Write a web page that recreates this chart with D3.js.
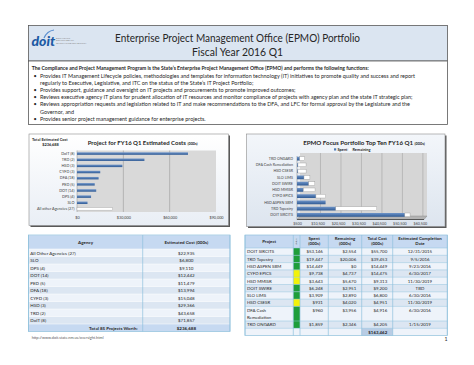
<!DOCTYPE html>
<html>
<head>
<meta charset="utf-8">
<script src="https://cdn.jsdelivr.net/npm/d3@7"></script>
<style>
body { margin: 0; background: #fff; }
svg { display: block; font-family: Lato, "Open Sans", sans-serif; }
</style>
</head>
<body>
<div id="chart"></div>
<script>
// DATA
var titleLines = ["Enterprise Project Management Office (EPMO) Portfolio", "Fiscal Year 2016 Q1"];
var introLine = "The Compliance and Project Management Program is the State\u2019s Enterprise Project Management Office (EPMO) and performs the following functions:";
var bullets = [
  ["Provides IT Management Lifecycle policies, methodologies and templates for information technology (IT) initiatives to promote quality and success and report",
   "regularly to Executive, Legislative, and ITC on the status of the State\u2019s IT Project Portfolio;"],
  ["Provides support, guidance and oversight on IT projects and procurements to promote improved outcomes;"],
  ["Reviews executive agency IT plans for prudent allocation of IT resources and monitor compliance of projects with agency plan and the state IT strategic plan;"],
  ["Reviews appropriation requests and legislation related to IT and make recommendations to the DFA, and LFC for formal approval by the Legislature and the",
   "Governor, and"],
  ["Provides senior project management guidance for enterprise projects."]
];

var agencies = ["All Other Agencies (27)", "SLO", "DPS (4)", "DOT (14)", "PED (5)", "DFA (18)", "CYFD (3)", "HSD (3)", "TRD (2)", "DoIT (8)"];
var agencyCosts = [22935, 6800, 9110, 12442, 11479, 13994, 15048, 29366, 43658, 71857];
var agencyTotal = 236688;
var agencyProjects = 85;
var costTicks = [0, 30000, 60000, 90000];

var projects = ["DOIT SIRCITS", "TRD Tapestry", "HSD ASPEN SBM", "CYFD EPICS", "HSD MMISR", "DOIT SWIRE", "SLO LIMS", "HSD CSESR", "DFA Cash Remediation", "TRD ONGARD"];
var projStatus = ["green", "green", "green", "yellow", "yellow", "green", "green", "yellow", "green", "green"];
var spent = [53146, 19447, 14449, 9738, 3643, 6248, 3909, 931, 960, 1859];
var remaining = [2554, 20006, 0, 4737, 5670, 2951, 2890, 4020, 3956, 2346];
var totalCost = [55700, 39453, 14449, 14475, 9313, 9200, 6800, 4951, 4916, 4205];
var completion = ["12/31/2015", "9/5/2016", "9/23/2016", "6/30/2017", "11/30/2019", "TBD", "6/30/2016", "11/30/2019", "6/30/2016", "1/15/2019"];
var projectTotal = 163462;
var spentTicks = [500, 10500, 20500, 30500, 40500, 50500, 60500];

var W = 474, H = 365;
var money = function(d) { return "$" + d3.format(",")(d); };
var statusColor = { green: "#1e9e3a", yellow: "#f2f20a" };

var svg = d3.select("#chart").append("svg")
  .attr("width", W)
  .attr("height", H);

var defs = svg.append("defs");
function vgrad(id, c0, c1) {
  var g = defs.append("linearGradient").attr("id", id)
    .attr("x1", 0).attr("y1", 0).attr("x2", 0).attr("y2", 1);
  g.append("stop").attr("offset", "0%").attr("stop-color", c0);
  g.append("stop").attr("offset", "100%").attr("stop-color", c1);
}
vgrad("barBlue", "#6f95c9", "#2f5a94");
vgrad("boxL", "#ffffff", "#e9eef5");
vgrad("boxR", "#f3f6fa", "#dde5ef");

// fit a text node to a target width
function fit(sel, width) {
  sel.attr("textLength", width).attr("lengthAdjust", "spacingAndGlyphs");
}

// HEADER
svg.append("rect").attr("x", 28.5).attr("y", 25.5).attr("width", 419).attr("height", 35.5)
  .attr("fill", "#dbe5f1").attr("stroke", "#595959").attr("stroke-width", 0.8);
svg.append("rect").attr("x", 28.5).attr("y", 61).attr("width", 419).attr("height", 63.5)
  .attr("fill", "#fff").attr("stroke", "#595959").attr("stroke-width", 0.8);

// logo
var logo = svg.append("g");
logo.append("text").attr("x", 31.5).attr("y", 45.5)
  .attr("font-size", 14).attr("font-weight", 900).attr("font-style", "italic")
  .attr("fill", "#1d5aa3").text("doit");
logo.append("path").attr("d", "M44,38 Q47,31 54,30")
  .attr("fill", "none").attr("stroke", "#5b8fd0").attr("stroke-width", 1.2);
["NEW MEXICO", "DEPARTMENT OF", "INFORMATION TECHNOLOGY"].forEach(function(t, i) {
  logo.append("text").attr("x", 56).attr("y", 38.5 + i * 2.8)
    .attr("font-size", 2.2).attr("fill", "#8a8a8a").text(t);
});

titleLines.forEach(function(t, i) {
  var tx = svg.append("text").attr("x", 237.5).attr("y", 41.5 + i * 14)
    .attr("text-anchor", "middle").attr("font-size", 11).attr("fill", "#262626").text(t);
  fit(tx, i === 0 ? 245 : 91);
});

// intro text block
var intro = svg.append("g").attr("font-size", 5.6).attr("fill", "#262626");
var probe = intro.append("text").attr("x", 40).attr("y", 77.5).text(bullets[0][0]);
var k = 375 / probe.node().getComputedTextLength();
probe.remove();

var it = intro.append("text").attr("x", 31.7).attr("y", 70.3).attr("font-weight", 700).text(introLine);
fit(it, it.node().getComputedTextLength() * k * 0.93);

var lineY = 77.5;
bullets.forEach(function(b) {
  intro.append("text").attr("x", 33.5).attr("y", lineY).text("\u2022");
  b.forEach(function(line) {
    var t = intro.append("text").attr("x", 40).attr("y", lineY).text(line);
    fit(t, t.node().getComputedTextLength() * k);
    lineY += 7.2;
  });
});

// LEFT CHART
function chartBox(x, y, w, h, fillId) {
  svg.append("rect").attr("x", x + 1.5).attr("y", y + 1.5).attr("width", w).attr("height", h)
    .attr("fill", "#595959");
  svg.append("rect").attr("x", x).attr("y", y).attr("width", w).attr("height", h)
    .attr("fill", "url(#" + fillId + ")").attr("stroke", "#8c8c8c").attr("stroke-width", 0.6);
}
chartBox(29, 134, 199.5, 91.5, "boxL");

var lc = { x0: 77, x1: 216, y0: 150.5, y1: 212 };
var xCost = d3.scaleLinear().domain([0, 90000]).range([lc.x0, lc.x1]);
var yAg = d3.scaleBand().domain(agencies).range([lc.y1, lc.y0]).paddingInner(0.6).paddingOuter(0.3);

svg.append("rect").attr("x", lc.x0).attr("y", lc.y0).attr("width", lc.x1 - lc.x0).attr("height", lc.y1 - lc.y0)
  .attr("fill", "#d9d9d9");
svg.append("g").selectAll("line").data(costTicks.slice(1, -1)).enter().append("line")
  .attr("x1", function(d) { return xCost(d); }).attr("x2", function(d) { return xCost(d); })
  .attr("y1", lc.y0).attr("y2", lc.y1)
  .attr("stroke", "#8c8c8c").attr("stroke-width", 0.5);
svg.append("line").attr("x1", lc.x0).attr("x2", lc.x0).attr("y1", lc.y0).attr("y2", lc.y1)
  .attr("stroke", "#8c8c8c").attr("stroke-width", 0.5);

svg.append("g").selectAll("rect").data(agencies).enter().append("rect")
  .attr("x", lc.x0)
  .attr("y", function(d) { return yAg(d); })
  .attr("width", function(d, i) { return xCost(agencyCosts[i]) - lc.x0; })
  .attr("height", yAg.bandwidth())
  .attr("fill", function(d, i) { return i === 0 ? "#ffffff" : "url(#barBlue)"; })
  .attr("stroke", function(d, i) { return i === 0 ? "#a6a6a6" : "none"; })
  .attr("stroke-width", 0.4);

var lcY = svg.append("g").attr("transform", "translate(" + (lc.x0 - 2.5) + ",0)")
  .call(d3.axisLeft(yAg).tickSize(0).tickPadding(0)
    .tickFormat(function(d) { return d.replace("Other", "other"); }));
lcY.select(".domain").remove();
lcY.selectAll("text").attr("font-size", 3.8).attr("fill", "#404040").attr("font-family", "Lato, sans-serif");

var lcX = svg.append("g").attr("transform", "translate(0," + (lc.y1 + 4) + ")")
  .call(d3.axisBottom(xCost).tickValues(costTicks).tickSize(0).tickPadding(0).tickFormat(money));
lcX.select(".domain").remove();
lcX.selectAll("text").attr("font-size", 3.8).attr("fill", "#404040").attr("font-family", "Lato, sans-serif");

svg.append("text").attr("x", 32).attr("y", 140.6).attr("font-size", 3.9).attr("font-weight", 700)
  .attr("fill", "#262626").text("Total Estimated Cost");
svg.append("text").attr("x", 50.5).attr("y", 145.6).attr("text-anchor", "middle").attr("font-size", 3.9)
  .attr("font-weight", 700).attr("fill", "#262626").text(money(agencyTotal));
var lt = svg.append("text").attr("x", 142.7).attr("y", 144.8).attr("text-anchor", "middle")
  .attr("font-weight", 700).attr("fill", "#262626");
lt.append("tspan").attr("font-size", 6).text("Project for FY16 Q1  Estimated  Costs ");
lt.append("tspan").attr("font-size", 3.8).text("(000s)");

// RIGHT CHART
chartBox(246.5, 134, 198.5, 92.5, "boxR");

var xSp = d3.scaleLinear().domain([500, 62500]).range([297, 424]);
var ySp = d3.scaleBand().domain(projects.slice().reverse()).range([155.5, 218]).paddingInner(0.4).paddingOuter(0.2);
var dx = 3, dy = 3.5;

// back wall and floor
svg.append("rect").attr("x", xSp(500) + dx).attr("y", 153).attr("width", xSp(62500) - xSp(500)).attr("height", 216 - 153)
  .attr("fill", "#d6d6d6");
svg.append("g").selectAll("line").data(spentTicks.slice(1)).enter().append("line")
  .attr("x1", function(d) { return xSp(d) + dx; }).attr("x2", function(d) { return xSp(d) + dx; })
  .attr("y1", 153).attr("y2", 216)
  .attr("stroke", "#9a9a9a").attr("stroke-width", 0.5);
svg.append("path")
  .attr("d", "M" + xSp(500) + "," + (216 + dy) + "L" + xSp(62500) + "," + (216 + dy) +
    "L" + (xSp(62500) + dx) + ",216L" + (xSp(500) + dx) + ",216Z")
  .attr("fill", "#b3b3b3").attr("stroke", "#7f7f7f").attr("stroke-width", 0.4);
svg.append("line").attr("x1", xSp(500)).attr("x2", xSp(62500)).attr("y1", 216 + dy).attr("y2", 216 + dy)
  .attr("stroke", "#404040").attr("stroke-width", 0.8);
svg.append("line").attr("x1", xSp(500)).attr("x2", xSp(500)).attr("y1", 156).attr("y2", 216 + dy)
  .attr("stroke", "#7f7f7f").attr("stroke-width", 0.5);

var rbars = svg.append("g").selectAll("g").data(projects).enter().append("g");
rbars.append("rect")
  .attr("x", xSp(500))
  .attr("y", function(d) { return ySp(d); })
  .attr("width", function(d, i) { return Math.max(0, xSp(spent[i]) - xSp(500)); })
  .attr("height", ySp.bandwidth())
  .attr("fill", "url(#barBlue)");
rbars.append("rect")
  .attr("x", function(d, i) { return Math.max(xSp(500), xSp(spent[i])); })
  .attr("y", function(d) { return ySp(d); })
  .attr("width", function(d, i) { return Math.max(0, xSp(spent[i] + remaining[i]) - Math.max(xSp(500), xSp(spent[i]))); })
  .attr("height", ySp.bandwidth())
  .attr("fill", "#ffffff").attr("stroke", "#9a9a9a").attr("stroke-width", 0.4);

var rcY = svg.append("g").attr("transform", "translate(" + (xSp(500) - 4) + ",0)")
  .call(d3.axisLeft(ySp).tickSize(0).tickPadding(0));
rcY.select(".domain").remove();
rcY.selectAll("text").attr("font-size", 3.7).attr("fill", "#404040").attr("font-family", "Lato, sans-serif");

var rcX = svg.append("g").attr("transform", "translate(0," + (216 + dy + 3) + ")")
  .call(d3.axisBottom(xSp).tickValues(spentTicks).tickSize(0).tickPadding(0).tickFormat(money));
rcX.select(".domain").remove();
rcX.selectAll("text").attr("font-size", 3.7).attr("fill", "#404040").attr("font-family", "Lato, sans-serif");

var rt = svg.append("text").attr("x", 364).attr("y", 145.3).attr("text-anchor", "middle")
  .attr("font-weight", 700).attr("fill", "#262626");
rt.append("tspan").attr("font-size", 6.2).text("EPMO Focus Portfolio Top Ten FY16 Q1 ");
rt.append("tspan").attr("font-size", 3.8).text("(000s)");
svg.append("rect").attr("x", 334).attr("y", 148.3).attr("width", 2.2).attr("height", 2.2).attr("fill", "#4f7ab3");
svg.append("text").attr("x", 337.5).attr("y", 150.6).attr("font-size", 3.9).attr("font-weight", 700)
  .attr("fill", "#262626").text("Spent");
svg.append("rect").attr("x", 349).attr("y", 148.3).attr("width", 2.2).attr("height", 2.2).attr("fill", "#ffffff");
svg.append("text").attr("x", 352.5).attr("y", 150.6).attr("font-size", 3.9).attr("font-weight", 700)
  .attr("fill", "#262626").text("Remaining");

// TABLES
var lineCol = "#8fc1dc";
var hdrFill = "#c6d9f1";
var rowFills = ["#eef3fa", "#dce6f2"];

// left table
var lt0 = { x: [28.5, 142.7, 230], top: 235, hdr: 14, row: 7.5 };
var ltab = svg.append("g").attr("font-size", 4.5).attr("fill", "#262626");
ltab.append("rect").attr("x", lt0.x[0]).attr("y", lt0.top).attr("width", lt0.x[2] - lt0.x[0]).attr("height", lt0.hdr)
  .attr("fill", hdrFill);
ltab.append("text").attr("x", (lt0.x[0] + lt0.x[1]) / 2).attr("y", lt0.top + 8.6).attr("text-anchor", "middle")
  .attr("font-weight", 700).text("Agency");
ltab.append("text").attr("x", (lt0.x[1] + lt0.x[2]) / 2).attr("y", lt0.top + 8.6).attr("text-anchor", "middle")
  .attr("font-weight", 700).text("Estimated Cost (000s)");
agencies.forEach(function(a, i) {
  var y = lt0.top + lt0.hdr + i * lt0.row;
  ltab.append("rect").attr("x", lt0.x[0]).attr("y", y).attr("width", lt0.x[2] - lt0.x[0]).attr("height", lt0.row)
    .attr("fill", rowFills[i % 2]);
  ltab.append("text").attr("x", lt0.x[0] + 1.8).attr("y", y + 5.5).text(a);
  ltab.append("text").attr("x", (lt0.x[1] + lt0.x[2]) / 2).attr("y", y + 5.5).attr("text-anchor", "middle")
    .text(money(agencyCosts[i]));
});
var ltTotY = lt0.top + lt0.hdr + agencies.length * lt0.row;
ltab.append("rect").attr("x", lt0.x[0]).attr("y", ltTotY).attr("width", lt0.x[2] - lt0.x[0]).attr("height", lt0.row)
  .attr("fill", hdrFill);
ltab.append("text").attr("x", lt0.x[1] - 5).attr("y", ltTotY + 5.5).attr("text-anchor", "end").attr("font-weight", 700)
  .text("Total " + agencyProjects + " Projects Worth:");
ltab.append("text").attr("x", (lt0.x[1] + lt0.x[2]) / 2).attr("y", ltTotY + 5.5).attr("text-anchor", "middle")
  .attr("font-weight", 700).text(money(agencyTotal));
var ltBot = ltTotY + lt0.row;
for (var r = 0; r <= agencies.length + 1; r++) {
  var yy = r === 0 ? lt0.top : lt0.top + lt0.hdr + (r - 1) * lt0.row;
  ltab.append("line").attr("x1", lt0.x[0]).attr("x2", lt0.x[2]).attr("y1", yy).attr("y2", yy)
    .attr("stroke", "#ffffff").attr("stroke-width", 0.5);
}
lt0.x.forEach(function(x) {
  ltab.append("line").attr("x1", x).attr("x2", x).attr("y1", lt0.top).attr("y2", ltBot)
    .attr("stroke", lineCol).attr("stroke-width", 0.7);
});
ltab.append("rect").attr("x", lt0.x[0]).attr("y", lt0.top).attr("width", lt0.x[2] - lt0.x[0]).attr("height", ltBot - lt0.top)
  .attr("fill", "none").attr("stroke", lineCol).attr("stroke-width", 0.7);

svg.append("text").attr("x", 31.7).attr("y", 338.8).attr("font-size", 3.8).attr("fill", "#595959")
  .text("http://www.doit.state.nm.us/oversight.html");

// right table
var rx = [245, 293.3, 300, 328.3, 361.7, 392.7, 447.3];
var rTop = 235, rHdr = 13, rRow = 7.3;
var rtab = svg.append("g").attr("font-size", 4.4).attr("fill", "#262626");
rtab.append("rect").attr("x", rx[0]).attr("y", rTop).attr("width", rx[6] - rx[0]).attr("height", rHdr).attr("fill", hdrFill);
var hdrs = [["Project"], null, ["Spent", "(000s)"], ["Remaining", "(000s)"], ["Total Cost", "(000s)"], ["Estimated Completion", "Date"]];
hdrs.forEach(function(h, c) {
  if (!h) return;
  var cx = (rx[c] + rx[c + 1]) / 2;
  h.forEach(function(t, j) {
    rtab.append("text").attr("x", cx).attr("y", rTop + (h.length === 1 ? 8.2 : 5.4 + j * 5))
      .attr("text-anchor", "middle").attr("font-weight", 700).text(t);
  });
});
rtab.append("text").attr("transform", "translate(" + ((rx[1] + rx[2]) / 2 + 0.8) + "," + (rTop + 6.5) + ") rotate(-90)")
  .attr("text-anchor", "middle").attr("font-size", 2.3).attr("fill", "#404040").text("Status");

var ry = rTop + rHdr;
projects.forEach(function(p, i) {
  var two = p.length > 16;
  var h = two ? rRow * 2 : rRow;
  rtab.append("rect").attr("x", rx[0]).attr("y", ry).attr("width", rx[6] - rx[0]).attr("height", h)
    .attr("fill", rowFills[i % 2]);
  rtab.append("rect").attr("x", rx[1]).attr("y", ry).attr("width", rx[2] - rx[1]).attr("height", h)
    .attr("fill", statusColor[projStatus[i]]);
  var nameLines = two ? ["DFA Cash", "Remediation"] : [p];
  if (two) nameLines = [p.split(" ").slice(0, 2).join(" "), p.split(" ").slice(2).join(" ")];
  nameLines.forEach(function(t, j) {
    rtab.append("text").attr("x", rx[0] + 2).attr("y", ry + 5.3 + j * rRow).text(t);
  });
  [spent[i], remaining[i], totalCost[i]].forEach(function(v, c) {
    rtab.append("text").attr("x", rx[c + 3] - 5.5).attr("y", ry + 5.3).attr("text-anchor", "end").text(money(v));
  });
  rtab.append("text").attr("x", (rx[5] + rx[6]) / 2).attr("y", ry + 5.3).attr("text-anchor", "middle").text(completion[i]);
  rtab.append("line").attr("x1", rx[0]).attr("x2", rx[6]).attr("y1", ry).attr("y2", ry)
    .attr("stroke", lineCol).attr("stroke-width", 0.5);
  ry += h;
});
rtab.append("rect").attr("x", rx[0]).attr("y", ry).attr("width", rx[6] - rx[0]).attr("height", rRow).attr("fill", "#eef3fa");
rtab.append("rect").attr("x", rx[4]).attr("y", ry).attr("width", rx[5] - rx[4]).attr("height", rRow).attr("fill", "#b8cce4");
rtab.append("text").attr("x", rx[5] - 5.5).attr("y", ry + 5.3).attr("text-anchor", "end").attr("font-weight", 700)
  .text(money(projectTotal));
rtab.append("line").attr("x1", rx[0]).attr("x2", rx[6]).attr("y1", ry).attr("y2", ry)
  .attr("stroke", lineCol).attr("stroke-width", 0.5);
var rBot = ry + rRow;
rx.forEach(function(x) {
  rtab.append("line").attr("x1", x).attr("x2", x).attr("y1", rTop).attr("y2", rBot)
    .attr("stroke", lineCol).attr("stroke-width", 0.7);
});
rtab.append("rect").attr("x", rx[0]).attr("y", rTop).attr("width", rx[6] - rx[0]).attr("height", rBot - rTop)
  .attr("fill", "none").attr("stroke", lineCol).attr("stroke-width", 0.7);

svg.append("text").attr("x", 446).attr("y", 340.5).attr("text-anchor", "middle").attr("font-size", 5.2)
  .attr("fill", "#262626").text("1");
</script>
</body>
</html>
